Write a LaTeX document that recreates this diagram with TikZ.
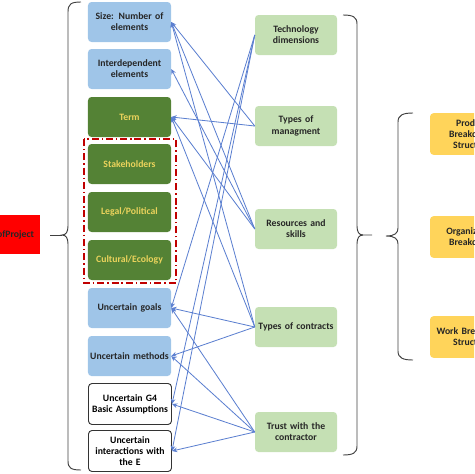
\documentclass[tikz,border=0pt]{standalone}
\usepackage{fontspec}
\setmainfont{Carlito}
\usetikzlibrary{arrows.meta}

\definecolor{boxblue}{HTML}{9FC5E8}
\definecolor{boxdkgreen}{HTML}{548235}
\definecolor{boxltgreen}{HTML}{C5E0B4}
\definecolor{boxgold}{HTML}{FFD45A}
\definecolor{termyellow}{HTML}{EBD35C}
\definecolor{linkblue}{HTML}{5B7FD0}
\definecolor{dashred}{HTML}{C00000}

\tikzset{
  box/.style={rounded corners=3pt, align=center, text width=2.38cm, inner xsep=1pt,
    minimum width=2.49cm, minimum height=1.2cm, font=\bfseries\fontsize{8.3}{9.5}\selectfont},
  bluebox/.style={box, fill=boxblue, text=black!85},
  dkbox/.style={box, fill=boxdkgreen, text=termyellow},
  whitebox/.style={box, fill=white, draw=black!80, line width=0.8pt, minimum height=1.23cm},
  ltbox/.style={box, fill=boxltgreen, text=black!85, minimum width=2.46cm},
  goldbox/.style={box, fill=boxgold, text=black!85, minimum width=2.52cm, minimum height=1.25cm},
  redbox/.style={box, fill=red, text=black!85, rounded corners=0pt, align=right,
    text width=2.55cm, minimum width=2.7cm, minimum height=1.17cm},
  link/.style={linkblue, line width=0.7pt, -{Stealth[length=4.5pt, width=4pt]}},
  bracket/.style={black!75, line width=0.8pt}
}

\begin{document}
\begin{tikzpicture}[x=0.03cm, y=-0.03cm]
            % Fix the page to the picture size
            \useasboundingbox (0,0) rectangle (474,474);
            \clip (0,0) rectangle (474,474);

            % Draw the project box on the left
            \node[redbox] (project) at (-5,234.5) {ofProject\hspace*{3pt}};

            % Draw the first column of elements
            \node[bluebox] (size) at (129.5,22) {Size: Number of\\elements};
            \node[bluebox] (interdep) at (129.5,69) {Interdependent\\elements};
            \node[dkbox] (term) at (129.5,117) {Term};
            \node[dkbox] (stake) at (129.5,164) {Stakeholders};
            \node[dkbox] (legal) at (129.5,212) {Legal/Political};
            \node[dkbox] (culture) at (129.5,260) {Cultural/Ecology};
            \node[bluebox] (goals) at (129.5,308) {Uncertain goals};
            \node[bluebox] (methods) at (129.5,356) {Uncertain methods};
            \node[whitebox] (assume) at (130,404) {Uncertain G4\\Basic Assumptions};
            \node[whitebox] (interact) at (130,451) {Uncertain\\interactions with\\the E};

            % Draw the dash-dotted frame round the green group
            \draw[dashred, line width=1.2pt, dash pattern=on 6pt off 2.5pt on 1.2pt off 2.5pt]
              (84,139) rectangle (176,283);

            % Draw the second column of elements
            \node[ltbox] (tech) at (296,35) {Technology\\dimensions};
            \node[ltbox] (manag) at (296,126) {Types of\\managment};
            \node[ltbox] (skills) at (296,229) {Resources and\\skills};
            \node[ltbox] (contract) at (296,327) {Types of contracts};
            \node[ltbox] (trust) at (296,432) {Trust with the\\contractor};

            % Draw the breakdown structures on the right
            \node[goldbox] (pbs) at (472,134) {Product\\Breakdown\\Structure};
            \node[goldbox] (obs) at (472,237) {Organization\\Breakdown};
            \node[goldbox] (wbs) at (472,337) {Work Breakdown\\Structure};

            % Draw the large brace round the first column
            \coordinate (leftTip) at (62,235);
            \coordinate (leftStub) at (50,235);
            \draw[bracket] (81,2) .. controls (71,2) and (68,4) .. (68,12) -- (68,226)
              .. controls (68,232) and (66,235) .. (leftTip)
              .. controls (66,235) and (68,238) .. (68,244) -- (68,461)
              .. controls (68,468) and (71,470) .. (81,470);
            \draw[bracket] (leftStub) -- (leftTip);

            % Draw the brace round the second column
            \coordinate (midTip) at (372,235);
            \draw[bracket] (343,15) .. controls (353,15) and (357,17) .. (357,24) -- (357,226)
              .. controls (357,232) and (359,235) .. (363,235) -- (midTip);
            \draw[bracket] (363,235) .. controls (359,235) and (357,238) .. (357,244) -- (357,446)
              .. controls (357,453) and (353,455) .. (343,455);

            % Draw the brace round the breakdown structures
            \coordinate (rightTip) at (386,236);
            \draw[bracket] (413,113) .. controls (403,113) and (398,115) .. (398,122) -- (398,228)
              .. controls (398,233) and (395,236) .. (rightTip)
              .. controls (395,236) and (398,239) .. (398,244) -- (398,351)
              .. controls (398,358) and (403,360) .. (413,360);

            % Links from types of managment
            \draw[link] (manag.west) -- (size.east);
            \draw[link] (manag.west) -- (term.east);

            % Links from resources and skills
            \draw[link] (skills.west) -- (size.east);
            \draw[link] (skills.west) -- (interdep.east);
            \draw[link] (skills.west) -- (term.east);

            % Links from types of contracts
            \draw[link] (contract.west) -- (size.east);
            \draw[link] (contract.west) -- (term.east);
            \draw[link] (contract.west) -- (goals.east);
            \draw[link] (contract.west) -- (methods.east);

            % Links from technology dimensions
            \draw[link] (tech.west) -- (goals.east);
            \draw[link] (tech.west) -- (assume.east);
            \draw[link] (tech.west) -- (interact.east);

            % Links from trust with the contractor
            \draw[link] (trust.west) -- (goals.east);
            \draw[link] (trust.west) -- (methods.east);
            \draw[link] (trust.west) -- (assume.east);
            \draw[link] (trust.west) -- (interact.east);
        \end{tikzpicture}
\end{document}
